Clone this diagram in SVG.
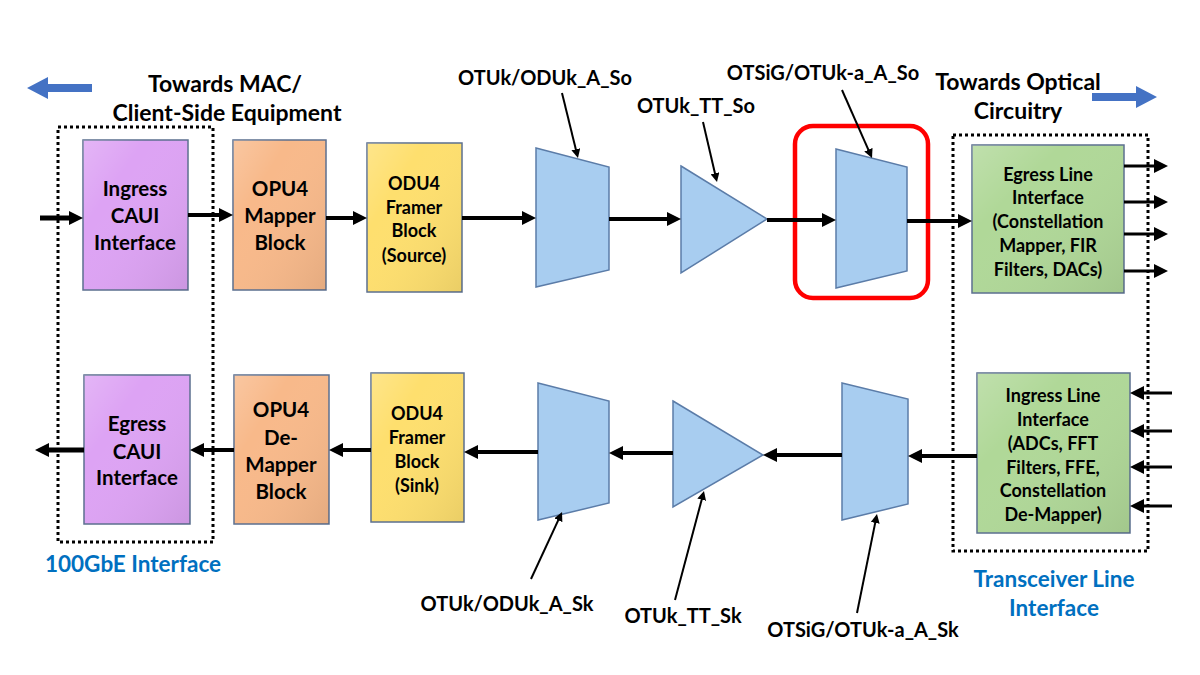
<svg xmlns="http://www.w3.org/2000/svg" width="1200" height="675" viewBox="0 0 1200 675">
<defs>
<marker id="ah" markerUnits="userSpaceOnUse" markerWidth="14" markerHeight="14" viewBox="0 0 14 14" refX="3" refY="7" orient="auto"><path d="M0,0 L14,7 L0,14 z" fill="#000"/></marker>
<marker id="ps" markerUnits="userSpaceOnUse" markerWidth="9" markerHeight="9" viewBox="0 0 9 9" refX="2" refY="4.5" orient="auto"><path d="M0,0 L9,4.5 L0,9 z" fill="#000"/></marker>
<linearGradient id="bev" x1="0" y1="0" x2="1" y2="1"><stop offset="0" stop-color="#fff" stop-opacity="0.2"/><stop offset="0.3" stop-color="#fff" stop-opacity="0"/><stop offset="1" stop-color="#000" stop-opacity="0.08"/></linearGradient>
</defs>
<style>
text{font-family:Lato,"Liberation Sans",sans-serif;font-weight:700;fill:#000;text-anchor:middle;dominant-baseline:central}
.box{stroke:#5b6f8f;stroke-width:1.5}
.purple{fill:#dda3f4}.orange{fill:#f8b98a}.yellow{fill:#fedf6e}.green{fill:#b0d898}.blue{fill:#a8cdf0;stroke:#5b7ca8;stroke-width:1.5}
.b19{font-size:20.5px}.b16{font-size:18px}.lab{font-size:20px}.hd{font-size:23px}
.bl{fill:#0070c0;font-size:22.5px}
.dot{fill:none;stroke:#000;stroke-width:3;stroke-dasharray:3 3}
.th{stroke:#000;stroke-width:4;fill:none;marker-end:url(#ah)}
.pt{stroke:#000;stroke-width:2;fill:none;marker-end:url(#ps)}
</style>
<rect width="1200" height="675" fill="#fff"/>
<g id="heads">
<polygon points="27,88 48,77 48,84 92,84 92,92 48,92 48,99" fill="#4472c4"/>
<text class="hd" x="225" y="83">Towards MAC/</text>
<text class="hd" x="227" y="112">Client-Side Equipment</text>
<text class="hd" x="1018" y="81">Towards Optical</text>
<text class="hd" x="1018" y="110">Circuitry</text>
<polygon points="1157,97 1136,86 1136,93 1092,93 1092,101 1136,101 1136,108" fill="#4472c4"/>
</g>
<g id="groups">
<rect class="dot" x="58" y="127" width="155" height="415"/>
<text class="bl" x="133" y="563">100GbE Interface</text>
<rect class="dot" x="953" y="135" width="195" height="416"/>
<text class="bl" x="1054" y="578">Transceiver Line</text>
<text class="bl" x="1054" y="607">Interface</text>
<rect x="795" y="126" width="133" height="172" rx="18" fill="none" stroke="#ff0000" stroke-width="4.5"/>
</g>
<g id="ingress-caui"><rect class="box purple" x="83" y="140" width="105" height="150"/><rect x="83" y="140" width="105" height="150" fill="url(#bev)"/>
<text class="b19" x="135" y="188">Ingress</text><text class="b19" x="135" y="215">CAUI</text><text class="b19" x="135" y="242">Interface</text></g>
<g id="opu4-mapper"><rect class="box orange" x="233" y="140" width="93" height="150"/><rect x="233" y="140" width="93" height="150" fill="url(#bev)"/>
<text class="b19" x="280" y="188">OPU4</text><text class="b19" x="280" y="215">Mapper</text><text class="b19" x="280" y="242">Block</text></g>
<g id="odu4-framer-src"><rect class="box yellow" x="367" y="143" width="95" height="149"/><rect x="367" y="143" width="95" height="149" fill="url(#bev)"/>
<text class="b16" x="414" y="183">ODU4</text><text class="b16" x="414" y="207">Framer</text><text class="b16" x="414" y="230">Block</text><text class="b16" x="414" y="255">(Source)</text></g>
<g id="otuk-oduk-a-so"><polygon class="blue" points="536,148 609,167 609,270 536,287"/></g>
<g id="otuk-tt-so"><polygon class="blue" points="681,166 767,219 681,273"/></g>
<g id="otsig-otuk-a-so"><polygon class="blue" points="836,149 907,167 907,271 836,288"/></g>
<g id="egress-line"><rect class="box green" x="972" y="145" width="152" height="148"/><rect x="972" y="145" width="152" height="148" fill="url(#bev)"/>
<text class="b16" x="1048" y="174">Egress Line</text><text class="b16" x="1048" y="197">Interface</text><text class="b16" x="1048" y="221">(Constellation</text><text class="b16" x="1048" y="245">Mapper,  FIR</text><text class="b16" x="1048" y="269">Filters, DACs)</text></g>
<g id="ingress-line"><rect class="box green" x="977" y="373" width="153" height="160"/><rect x="977" y="373" width="153" height="160" fill="url(#bev)"/>
<text class="b16" x="1053" y="395">Ingress Line</text><text class="b16" x="1053" y="419">Interface</text><text class="b16" x="1053" y="443">(ADCs, FFT</text><text class="b16" x="1053" y="467">Filters, FFE,</text><text class="b16" x="1053" y="490">Constellation</text><text class="b16" x="1053" y="514">De-Mapper)</text></g>
<g id="otsig-otuk-a-sk"><polygon class="blue" points="842,383 908,399 908,504 842,520"/></g>
<g id="otuk-tt-sk"><polygon class="blue" points="673,401 763,455 673,507"/></g>
<g id="otuk-oduk-a-sk"><polygon class="blue" points="538,383 609,401 609,503 538,520"/></g>
<g id="odu4-framer-sink"><rect class="box yellow" x="371" y="373" width="93" height="149"/><rect x="371" y="373" width="93" height="149" fill="url(#bev)"/>
<text class="b16" x="417" y="413">ODU4</text><text class="b16" x="417" y="437">Framer</text><text class="b16" x="417" y="461">Block</text><text class="b16" x="417" y="485">(Sink)</text></g>
<g id="opu4-demapper"><rect class="box orange" x="234" y="375" width="95" height="149"/><rect x="234" y="375" width="95" height="149" fill="url(#bev)"/>
<text class="b19" x="281" y="409">OPU4</text><text class="b19" x="281" y="437">De-</text><text class="b19" x="281" y="464">Mapper</text><text class="b19" x="281" y="491">Block</text></g>
<g id="egress-caui"><rect class="box purple" x="84" y="375" width="106" height="149"/><rect x="84" y="375" width="106" height="149" fill="url(#bev)"/>
<text class="b19" x="137" y="423">Egress</text><text class="b19" x="137" y="451">CAUI</text><text class="b19" x="137" y="477">Interface</text></g>
<g id="labels">
<text class="lab" x="545" y="77">OTUk/ODUk_A_So</text>
<text class="lab" x="696" y="105">OTUk_TT_So</text>
<text class="lab" x="823" y="72">OTSiG/OTUk-a_A_So</text>
<text class="lab" x="507" y="603">OTUk/ODUk_A_Sk</text>
<text class="lab" x="683" y="615">OTUk_TT_Sk</text>
<text class="lab" x="863" y="629">OTSiG/OTUk-a_A_Sk</text>
</g>
<g id="connectors">
<line class="th" x1="40" y1="218" x2="72" y2="218" style="stroke-width:5"/>
<line class="th" x1="188" y1="215" x2="222" y2="215"/>
<line class="th" x1="326" y1="218" x2="356" y2="218"/>
<line class="th" x1="462" y1="218" x2="525" y2="218"/>
<line class="th" x1="609" y1="219" x2="670" y2="219"/>
<line class="th" x1="767" y1="220" x2="825" y2="220"/>
<line class="th" x1="907" y1="221" x2="961" y2="221"/>
<line class="th" x1="1124" y1="166" x2="1157" y2="166" style="stroke-width:3"/>
<line class="th" x1="1124" y1="202" x2="1157" y2="202" style="stroke-width:3"/>
<line class="th" x1="1124" y1="234" x2="1157" y2="234" style="stroke-width:3"/>
<line class="th" x1="1124" y1="271" x2="1157" y2="271" style="stroke-width:3"/>
<line class="th" x1="1172" y1="393" x2="1141" y2="393" style="stroke-width:3"/>
<line class="th" x1="1172" y1="431" x2="1141" y2="431" style="stroke-width:3"/>
<line class="th" x1="1172" y1="467" x2="1141" y2="467" style="stroke-width:3"/>
<line class="th" x1="1172" y1="506" x2="1141" y2="506" style="stroke-width:3"/>
<line class="th" x1="977" y1="456" x2="919" y2="456"/>
<line class="th" x1="842" y1="455" x2="774" y2="455"/>
<line class="th" x1="673" y1="453" x2="620" y2="453"/>
<line class="th" x1="538" y1="452" x2="475" y2="452"/>
<line class="th" x1="371" y1="450" x2="340" y2="450"/>
<line class="th" x1="234" y1="450" x2="201" y2="450"/>
<line class="th" x1="84" y1="450" x2="46" y2="450" style="stroke-width:5"/>
<line class="pt" x1="562" y1="93" x2="576.3" y2="151.2"/>
<line class="pt" x1="703" y1="122" x2="715.4" y2="175.2"/>
<line class="pt" x1="842" y1="90" x2="869.2" y2="151.6"/>
<line class="pt" x1="531" y1="579" x2="559.1" y2="518.4"/>
<line class="pt" x1="675" y1="600" x2="702.2" y2="497.8"/>
<line class="pt" x1="857" y1="613" x2="875.6" y2="520.9"/>
</g>
</svg>
